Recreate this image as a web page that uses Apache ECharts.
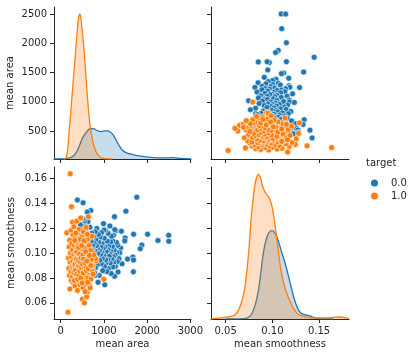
<!DOCTYPE html>
<html>
<head>
<meta charset="utf-8">
<script src="https://cdn.jsdelivr.net/npm/echarts@6/dist/echarts.min.js"></script>
<style>
html,body{margin:0;padding:0;background:#fff;}
#chart{width:412px;height:357px;}
</style>
</head>
<body>
<div id="chart"></div>
<script>
// ---- Data ----
const targetLevels = ['0.0', '1.0'];
const hueColors = ['#1f77b4', '#ff7f0e'];

// [mean area, mean smoothness] for target 0.0
const pointsTarget0 = [
[2501,0.1094],[2499,0.1142],[2250,0.1100],[2010,0.1150],[1878,0.1063],[1841,0.1034],[1761,0.1447],[1686,0.1150],
[1670,0.0967],[1685,0.0944],[1682,0.0849],[1546,0.0951],[1509,0.1335],[1491,0.1121],[1482,0.1097],[1419,0.0913],
[1404,0.1175],[1386,0.1040],[1364,0.1002],[1347,0.0955],[1326,0.0847],[1320,0.1062],[1308,0.0930],[1297,0.1003],
[1290,0.1085],[1276,0.1178],[1265,0.0891],[1260,0.0983],[1250,0.1187],[1247,0.0814],[1245,0.1291],[1234,0.1024],
[1230,0.0927],[1223,0.1142],[1217,0.0969],[1207,0.0888],[1203,0.1096],[1194,0.1050],[1184,0.0950],[1174,0.1134],
[1167,0.0836],[1162,0.1012],[1155,0.1088],[1145,0.0920],[1138,0.1216],[1130,0.0997],[1123,0.0974],[1110,0.1051],
[1104,0.0873],[1097,0.1157],[1092,0.0945],[1088,0.1026],[1076,0.1095],[1068,0.0851],[1052,0.1012],[1047,0.0920],
[1040,0.0946],[1033,0.1180],[1024,0.1048],[1019,0.0746],[1013,0.0893],[1006,0.1119],[1001,0.1184],[998,0.0981],
[990,0.1235],[982,0.1037],[972,0.0858],[965,0.0955],[958,0.1073],[951,0.1003],[945,0.1163],[938,0.0914],
[929,0.1046],[920,0.0989],[912,0.1127],[904,0.0942],[898,0.1018],[890,0.0820],[880,0.1086],[872,0.1148],
[865,0.0765],[857,0.0996],[850,0.1040],[843,0.0903],[836,0.1197],[828,0.1058],[820,0.0958],[812,0.1107],
[804,0.0880],[798,0.1170],[797,0.0821],[790,0.1016],[782,0.0840],[781,0.0971],[775,0.1076],[766,0.0936],
[758,0.1131],[750,0.1009],[744,0.0869],[737,0.1061],[730,0.0966],[722,0.1159],[716,0.1024],[710,0.0907],
[702,0.1094],[695,0.1340],[690,0.0980],[684,0.0987],[676,0.1206],[669,0.1045],[662,0.0931],[659,0.1139],
[651,0.1117],[643,0.1005],[636,0.0952],[629,0.1250],[622,0.1068],[615,0.1328],[607,0.1155],[599,0.0990],
[591,0.1103],[578,0.1131],[578,0.1189],[566,0.1218],[556,0.1036],[545,0.1258],[520,0.1273],[518,0.1402],
[496,0.1155],[477,0.1278],[476,0.1186],[455,0.1225],[386,0.1425]
];

// [mean area, mean smoothness] for target 1.0
const pointsTarget1 = [
[143,0.1163],[170,0.0526],[221,0.1634],[250,0.1371],[275,0.1246],[996,0.0790],[820,0.0938],[808,0.0955],
[180,0.0960],[188,0.0877],[195,0.1050],[201,0.0820],[208,0.1103],[214,0.0712],[220,0.0925],[227,0.1000],
[233,0.0850],[240,0.1180],[246,0.0780],[252,0.0965],[258,0.1075],[264,0.0890],[270,0.0810],[274,0.1024],
[280,0.0935],[286,0.1145],[291,0.0870],[297,0.0760],[302,0.0990],[308,0.1210],[313,0.0905],[318,0.1060],
[323,0.0830],[328,0.0950],[333,0.0735],[338,0.1120],[342,0.0880],[346,0.1008],[350,0.0925],[355,0.0790],
[359,0.1085],[363,0.0860],[367,0.0970],[371,0.1255],[375,0.0815],[379,0.0905],[383,0.1040],[387,0.0700],
[391,0.0940],[395,0.0875],[398,0.1150],[402,0.0985],[406,0.0835],[410,0.1065],[413,0.0910],[417,0.0765],
[420,0.1000],[424,0.0890],[427,0.1190],[431,0.0955],[434,0.0845],[438,0.1030],[441,0.0920],[445,0.0745],
[448,0.1095],[452,0.0870],[455,0.0975],[459,0.0810],[462,0.1280],[466,0.0935],[470,0.1050],[473,0.0855],
[477,0.0780],[481,0.0995],[485,0.1130],[489,0.0900],[493,0.0820],[497,0.1015],[502,0.0630],[506,0.0945],
[510,0.1075],[514,0.0865],[519,0.0720],[523,0.0960],[527,0.1170],[531,0.0885],[536,0.1025],[540,0.0800],
[545,0.0930],[549,0.0600],[554,0.1090],[558,0.0850],[563,0.0975],[567,0.0750],[572,0.1040],[577,0.0905],
[582,0.0825],[587,0.1205],[592,0.0940],[597,0.0775],[602,0.0650],[607,0.1000],[612,0.0870],[618,0.0688],
[623,0.1110],[629,0.0915],[635,0.0800],[641,0.1290],[647,0.0960],[653,0.0845],[660,0.1060],[667,0.0740],
[674,0.0925],[682,0.0880],[690,0.1020],[698,0.0790],[707,0.0950],[716,0.0860],[726,0.1135],[737,0.0895],
[750,0.0830],[765,0.0985],
[305,0.0845],[315,0.0780],[325,0.1100],[335,0.0910],[345,0.0860],[352,0.1160],[362,0.0950],[369,0.0830],
[377,0.1005],[385,0.0925],[393,0.0790],[400,0.0895],[408,0.0940],[415,0.1045],[422,0.0820],[429,0.0890],
[436,0.0990],[443,0.0855],[450,0.0925],[457,0.1110],[464,0.0800],[471,0.0960],[479,0.0880],[487,0.1060],
[495,0.0760],[504,0.0910],[512,0.0985],[521,0.0840],[530,0.0950],[539,0.1100],[548,0.0875],[557,0.0920],
[566,0.0690],[576,0.1010],[586,0.0880],[596,0.0860],[606,0.0935],[616,0.1150],[626,0.0765],[639,0.0875],
[660,0.0980],[680,0.0720],[700,0.0900]
];

// KDE curves on the diagonal: [value, relative height (fraction of panel)]
const areaKde0 = [
[-155,0],[38,0.001],[154,0.004],[269,0.015],[346,0.037],[423,0.08],[500,0.136],[577,0.17],[654,0.196],
[707,0.202],[769,0.198],[846,0.187],[923,0.180],[1000,0.185],[1077,0.185],[1154,0.176],[1215,0.158],
[1269,0.132],[1346,0.092],[1423,0.059],[1500,0.044],[1615,0.033],[1769,0.022],[1923,0.015],[2153,0.009],
[2384,0.007],[2615,0.009],[2769,0.004],[3015,0.001]
];
const areaKde1 = [
[60,0],[115,0.003],[154,0.048],[200,0.20],[246,0.356],[277,0.466],[308,0.576],[338,0.686],[369,0.796],
[400,0.894],[423,0.938],[438,0.954],[461,0.938],[492,0.862],[523,0.774],[554,0.664],[584,0.543],[615,0.422],
[646,0.312],[677,0.224],[707,0.169],[738,0.125],[769,0.088],[807,0.055],[846,0.033],[900,0.015],[977,0.004],
[1077,0.001],[1200,0]
];
const smoothKde0 = [
[0.0500,0],[0.0688,0.002],[0.0742,0.011],[0.0778,0.033],[0.0814,0.088],[0.0850,0.187],[0.0875,0.297],
[0.0897,0.407],[0.0922,0.495],[0.0948,0.55],[0.0977,0.578],[0.0998,0.582],[0.1020,0.571],[0.1049,0.538],
[0.1078,0.484],[0.1103,0.433],[0.1128,0.385],[0.1157,0.319],[0.1193,0.231],[0.1229,0.143],[0.1258,0.088],
[0.1287,0.051],[0.1323,0.033],[0.1366,0.026],[0.1403,0.020],[0.1446,0.009],[0.1500,0.002],[0.1572,0.001],[0.1650,0]
];
const smoothKde1 = [
[0.0343,0.001],[0.0435,0.006],[0.0543,0.015],[0.0597,0.026],[0.0634,0.055],[0.0670,0.11],[0.0706,0.21],
[0.0731,0.34],[0.0753,0.49],[0.0774,0.67],[0.0792,0.78],[0.0810,0.87],[0.0832,0.934],[0.0854,0.952],
[0.0875,0.923],[0.0897,0.868],[0.0922,0.835],[0.0948,0.813],[0.0977,0.78],[0.0998,0.736],[0.1016,0.67],
[0.1034,0.593],[0.1049,0.516],[0.1067,0.43],[0.1085,0.35],[0.1106,0.275],[0.1128,0.22],[0.1157,0.165],
[0.1193,0.11],[0.1229,0.066],[0.1265,0.037],[0.1319,0.02],[0.1374,0.011],[0.1446,0.007],[0.1554,0.007],
[0.1662,0.011],[0.1717,0.013],[0.1771,0.009],[0.1820,0.003]
];

// Tick values
const areaTicksY = [500, 1000, 1500, 2000, 2500];
const areaTicksX = [0, 1000, 2000, 3000];
const smoothTicksY = [0.06, 0.08, 0.10, 0.12, 0.14, 0.16];
const smoothTicksX = [0.05, 0.10, 0.15];

// Axis ranges
const areaXRange = [-155, 3015];
const areaYRange = [25.6, 2619];
const smoothXRange = [0.0343, 0.1820];
const smoothYRange = [0.0471, 0.1689];

// ---- Chart ----
const FONT = 'DejaVu Sans';
const INK = '#262626';

function valAxis(gridIndex, range, ticks, showLabels, fmt, extra) {
  return Object.assign({
    type: 'value', gridIndex: gridIndex, min: range[0], max: range[1],
    axisLine: { show: true, onZero: false, lineStyle: { color: INK, width: 1 } },
    axisTick: { show: true, inside: false, length: 4, customValues: ticks, lineStyle: { color: INK, width: 1 } },
    axisLabel: { show: showLabels, customValues: ticks, formatter: fmt, fontFamily: FONT, fontSize: 10, color: INK, margin: 7 },
    splitLine: { show: false },
    nameTextStyle: { fontFamily: FONT, fontSize: 10, color: INK }
  }, extra || {});
}
const fmtInt = v => String(Math.round(v));
const fmt2 = v => v.toFixed(2);

const grids = [
  { left: 54, top: 7, width: 137, height: 152 },
  { left: 211, top: 7, width: 138, height: 152 },
  { left: 54, top: 167, width: 137, height: 152 },
  { left: 211, top: 167, width: 138, height: 152 }
];

const xAxes = [
  valAxis(0, areaXRange, areaTicksX, false, fmtInt),
  valAxis(1, smoothXRange, smoothTicksX, false, fmt2),
  valAxis(2, areaXRange, areaTicksX, true, fmtInt, { name: 'mean area', nameLocation: 'middle', nameGap: 20 }),
  valAxis(3, smoothXRange, smoothTicksX, true, fmt2, { name: 'mean smoothness', nameLocation: 'middle', nameGap: 20 })
];
const yAxes = [
  valAxis(0, areaYRange, areaTicksY, true, fmtInt, { name: 'mean area', nameLocation: 'middle', nameGap: 39 }),
  { type: 'value', gridIndex: 0, min: 0, max: 1, show: false },
  valAxis(1, areaYRange, areaTicksY, false, fmtInt),
  valAxis(2, smoothYRange, smoothTicksY, true, fmt2, { name: 'mean smoothness', nameLocation: 'middle', nameGap: 38 }),
  valAxis(3, smoothYRange, smoothTicksY, false, fmt2),
  { type: 'value', gridIndex: 3, min: 0, max: 1, show: false }
];

function kde(name, data, xi, yi, color, z) {
  return {
    type: 'line', name: name, xAxisIndex: xi, yAxisIndex: yi, data: data,
    showSymbol: false, symbol: 'none', smooth: 0.35, z: z,
    lineStyle: { color: color, width: 1.3 },
    areaStyle: { color: color, opacity: 0.25, origin: 'start' },
    itemStyle: { color: color }, silent: true
  };
}
function scatter(name, data, xi, yi, color, z) {
  return {
    type: 'scatter', name: name, xAxisIndex: xi, yAxisIndex: yi, data: data,
    symbol: 'circle', symbolSize: 6, z: z,
    itemStyle: { color: color, borderColor: '#ffffff', borderWidth: 0.6, opacity: 1 }
  };
}
const swap = arr => arr.map(p => [p[1], p[0]]);

const series = [
  kde('kde-area-0', areaKde0, 0, 1, hueColors[0], 2),
  kde('kde-area-1', areaKde1, 0, 1, hueColors[1], 3),
  scatter(targetLevels[0], swap(pointsTarget0), 1, 2, hueColors[0], 2),
  scatter(targetLevels[1], swap(pointsTarget1), 1, 2, hueColors[1], 3),
  scatter(targetLevels[0], pointsTarget0, 2, 3, hueColors[0], 2),
  scatter(targetLevels[1], pointsTarget1, 2, 3, hueColors[1], 3),
  kde('kde-smooth-0', smoothKde0, 3, 5, hueColors[0], 2),
  kde('kde-smooth-1', smoothKde1, 3, 5, hueColors[1], 3)
];

const chart = echarts.init(document.getElementById('chart'), null, { renderer: 'canvas' });
chart.setOption({
  animation: false,
  backgroundColor: '#ffffff',
  grid: grids,
  xAxis: xAxes,
  yAxis: yAxes,
  series: series,
  legend: {
    data: targetLevels.map((t, i) => ({ name: t, icon: 'circle', itemStyle: { color: hueColors[i], borderWidth: 0 } })),
    orient: 'vertical', left: 366, top: 173, itemWidth: 7, itemHeight: 7, itemGap: 3,
    selectedMode: false,
    textStyle: { fontFamily: FONT, fontSize: 10, color: INK, padding: [0, 0, 0, 8] }
  },
  graphic: [{
    type: 'text', left: 366, top: 158,
    style: { text: 'target', fontFamily: FONT, fontSize: 10, fill: INK }
  }]
});
</script>
</body>
</html>
